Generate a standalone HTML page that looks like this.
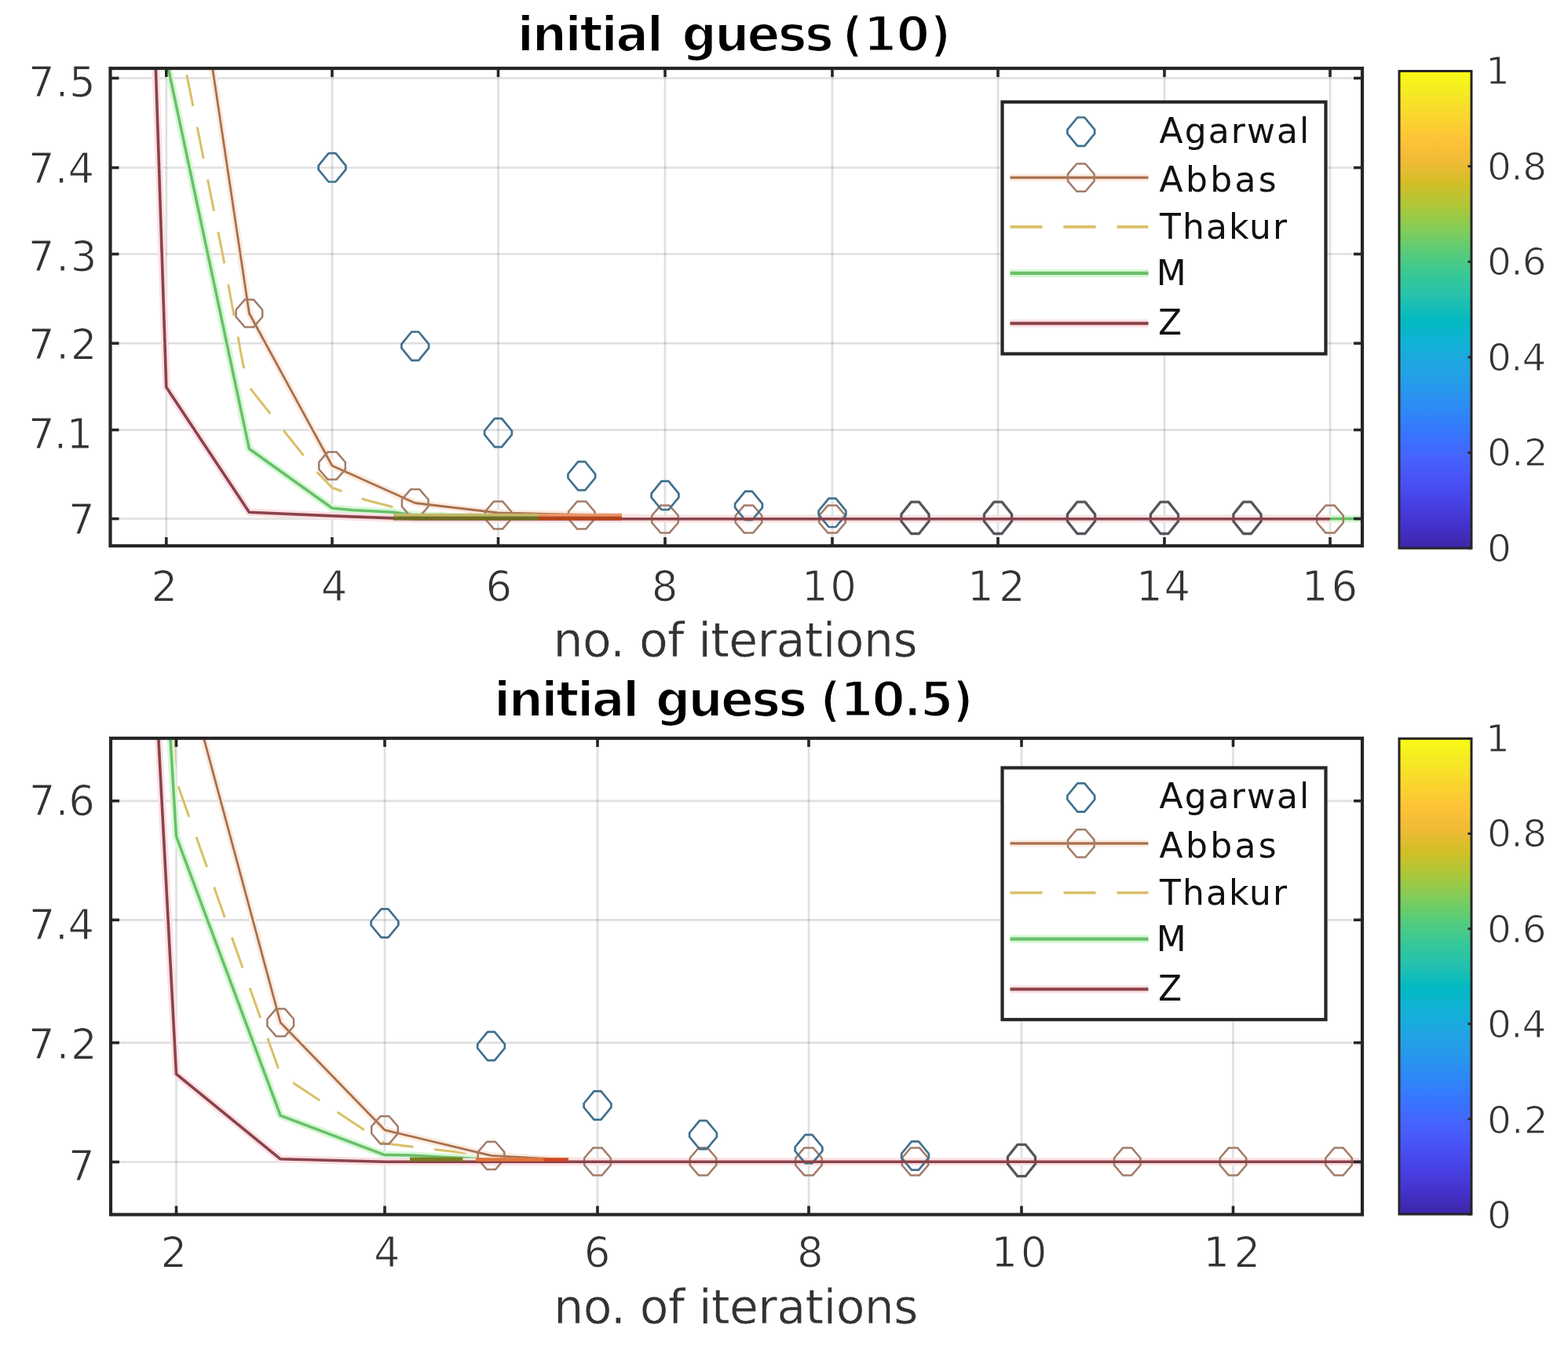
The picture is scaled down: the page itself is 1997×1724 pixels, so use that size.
<!DOCTYPE html>
<html><head><meta charset="utf-8"><title>initial guess</title><style>html,body{margin:0;padding:0;background:#fff;}svg{display:block;}</style></head><body>
<svg width="1997" height="1724" viewBox="0 0 1997 1724" font-family='"DejaVu Sans","Liberation Sans",sans-serif'>
<rect width="1997" height="1724" fill="#fff"/>
<clipPath id="cp1"><rect x="140.5" y="87" width="1594.5" height="608"/></clipPath>
<line x1="211.8" y1="87.0" x2="211.8" y2="695.0" stroke="#262626" stroke-width="2.7" stroke-opacity="0.14"/>
<line x1="423.0" y1="87.0" x2="423.0" y2="695.0" stroke="#262626" stroke-width="2.7" stroke-opacity="0.14"/>
<line x1="634.5" y1="87.0" x2="634.5" y2="695.0" stroke="#262626" stroke-width="2.7" stroke-opacity="0.14"/>
<line x1="847.0" y1="87.0" x2="847.0" y2="695.0" stroke="#262626" stroke-width="2.7" stroke-opacity="0.14"/>
<line x1="1060.0" y1="87.0" x2="1060.0" y2="695.0" stroke="#262626" stroke-width="2.7" stroke-opacity="0.14"/>
<line x1="1271.0" y1="87.0" x2="1271.0" y2="695.0" stroke="#262626" stroke-width="2.7" stroke-opacity="0.14"/>
<line x1="1483.0" y1="87.0" x2="1483.0" y2="695.0" stroke="#262626" stroke-width="2.7" stroke-opacity="0.14"/>
<line x1="1694.0" y1="87.0" x2="1694.0" y2="695.0" stroke="#262626" stroke-width="2.7" stroke-opacity="0.14"/>
<line x1="140.5" y1="99.5" x2="1735.0" y2="99.5" stroke="#262626" stroke-width="2.7" stroke-opacity="0.14"/>
<line x1="140.5" y1="213.5" x2="1735.0" y2="213.5" stroke="#262626" stroke-width="2.7" stroke-opacity="0.14"/>
<line x1="140.5" y1="323.5" x2="1735.0" y2="323.5" stroke="#262626" stroke-width="2.7" stroke-opacity="0.14"/>
<line x1="140.5" y1="437.1" x2="1735.0" y2="437.1" stroke="#262626" stroke-width="2.7" stroke-opacity="0.14"/>
<line x1="140.5" y1="547.4" x2="1735.0" y2="547.4" stroke="#262626" stroke-width="2.7" stroke-opacity="0.14"/>
<line x1="140.5" y1="660.5" x2="1735.0" y2="660.5" stroke="#262626" stroke-width="2.7" stroke-opacity="0.14"/>
<g clip-path="url(#cp1)">
<polyline points="222.5,-40.0 236.2,87.0 284.3,327.5 309.5,464.0 317.4,493.0 401.3,598.5 423.0,621.0 465.4,636.5 528.8,653.0 634.5,656.0 793.9,657.0" fill="none" stroke="#d9c068" stroke-width="3.0" stroke-linejoin="round" stroke-dasharray="41 27"/>
<polyline points="105.9,-2705.0 211.8,75.0 317.4,571.5 423.0,647.0 449.6,649.5 501.5,652.3 528.8,656.0 634.5,659.5 740.8,660.6 1799.9,660.6" fill="none" stroke="#d6f8d6" stroke-width="9.5" stroke-linejoin="round"/>
<polyline points="105.9,-2705.0 211.8,75.0 317.4,571.5 423.0,647.0 449.6,649.5 501.5,652.3 528.8,656.0 634.5,659.5 740.8,660.6 1799.9,660.6" fill="none" stroke="#6abf6a" stroke-width="3.5" stroke-linejoin="round"/>
<polyline points="105.9,-2705.0 211.8,-306.0 317.4,399.0 423.0,593.0 528.8,640.5 634.5,653.0 740.8,655.5 847.0,660.5 1694.0,660.5" fill="none" stroke="#fbebe0" stroke-width="8.8" stroke-linejoin="round"/>
<polyline points="105.9,-2705.0 211.8,-306.0 317.4,399.0 423.0,593.0 528.8,640.5 634.5,653.0 740.8,655.5 847.0,660.5 1694.0,660.5" fill="none" stroke="#a8704c" stroke-width="2.8" stroke-linejoin="round"/>
<polyline points="105.9,-2705.0 211.8,493.0 317.4,652.3 423.0,656.9 528.8,660.8 1694.0,660.8" fill="none" stroke="#fbe0e4" stroke-width="9.6" stroke-linejoin="round"/>
<path d="M311.9 381.4L322.9 381.4L334.2 394.5L334.2 403.5L322.9 416.6L311.9 416.6L300.6 403.5L300.6 394.5Z" fill="none" stroke="#a27c68" stroke-width="2.5" stroke-linejoin="round"/>
<path d="M417.5 575.4L428.5 575.4L439.8 588.5L439.8 597.5L428.5 610.6L417.5 610.6L406.2 597.5L406.2 588.5Z" fill="none" stroke="#a27c68" stroke-width="2.5" stroke-linejoin="round"/>
<path d="M523.2 622.9L534.2 622.9L545.5 636.0L545.5 645.0L534.2 658.1L523.2 658.1L511.9 645.0L511.9 636.0Z" fill="none" stroke="#a27c68" stroke-width="2.5" stroke-linejoin="round"/>
<path d="M629.0 638.4L640.0 638.4L651.3 651.5L651.3 660.5L640.0 673.6L629.0 673.6L617.7 660.5L617.7 651.5Z" fill="none" stroke="#a27c68" stroke-width="2.5" stroke-linejoin="round"/>
<path d="M735.2 638.4L746.2 638.4L757.5 651.5L757.5 660.5L746.2 673.6L735.2 673.6L724.0 660.5L724.0 651.5Z" fill="none" stroke="#a27c68" stroke-width="2.5" stroke-linejoin="round"/>
<path d="M841.5 643.4L852.5 643.4L863.8 656.5L863.8 665.5L852.5 678.6L841.5 678.6L830.2 665.5L830.2 656.5Z" fill="none" stroke="#a27c68" stroke-width="2.5" stroke-linejoin="round"/>
<path d="M948.0 643.4L959.0 643.4L970.3 656.5L970.3 665.5L959.0 678.6L948.0 678.6L936.7 665.5L936.7 656.5Z" fill="none" stroke="#a27c68" stroke-width="2.5" stroke-linejoin="round"/>
<path d="M1054.5 643.4L1065.5 643.4L1076.8 656.5L1076.8 665.5L1065.5 678.6L1054.5 678.6L1043.2 665.5L1043.2 656.5Z" fill="none" stroke="#a27c68" stroke-width="2.5" stroke-linejoin="round"/>
<path d="M1688.5 643.4L1699.5 643.4L1710.8 656.5L1710.8 665.5L1699.5 678.6L1688.5 678.6L1677.2 665.5L1677.2 656.5Z" fill="none" stroke="#a27c68" stroke-width="2.5" stroke-linejoin="round"/>
<path d="M418.5 195.1L427.5 195.1L440.4 210.8L440.4 215.8L427.5 231.5L418.5 231.5L405.6 215.8L405.6 210.8Z" fill="none" stroke="#41708e" stroke-width="2.7" stroke-linejoin="round"/>
<path d="M524.2 422.5L533.2 422.5L546.1 438.2L546.1 443.2L533.2 458.9L524.2 458.9L511.4 443.2L511.4 438.2Z" fill="none" stroke="#41708e" stroke-width="2.7" stroke-linejoin="round"/>
<path d="M630.0 532.8L639.0 532.8L651.9 548.5L651.9 553.5L639.0 569.2L630.0 569.2L617.1 553.5L617.1 548.5Z" fill="none" stroke="#41708e" stroke-width="2.7" stroke-linejoin="round"/>
<path d="M736.2 587.8L745.2 587.8L758.1 603.5L758.1 608.5L745.2 624.2L736.2 624.2L723.4 608.5L723.4 603.5Z" fill="none" stroke="#41708e" stroke-width="2.7" stroke-linejoin="round"/>
<path d="M842.5 612.6L851.5 612.6L864.4 628.3L864.4 633.3L851.5 649.0L842.5 649.0L829.6 633.3L829.6 628.3Z" fill="none" stroke="#41708e" stroke-width="2.7" stroke-linejoin="round"/>
<path d="M949.0 625.6L958.0 625.6L970.9 641.3L970.9 646.3L958.0 662.0L949.0 662.0L936.1 646.3L936.1 641.3Z" fill="none" stroke="#41708e" stroke-width="2.7" stroke-linejoin="round"/>
<path d="M1055.5 634.6L1064.5 634.6L1077.4 650.3L1077.4 655.3L1064.5 671.0L1055.5 671.0L1042.6 655.3L1042.6 650.3Z" fill="none" stroke="#41708e" stroke-width="2.7" stroke-linejoin="round"/>
<path d="M1160.5 639.1L1170.5 639.1L1183.1 654.8L1183.1 663.8L1170.5 679.5L1160.5 679.5L1147.9 663.8L1147.9 654.8Z" fill="none" stroke="#55555d" stroke-width="3.3" stroke-linejoin="round"/>
<path d="M1266.0 639.1L1276.0 639.1L1288.6 654.8L1288.6 663.8L1276.0 679.5L1266.0 679.5L1253.4 663.8L1253.4 654.8Z" fill="none" stroke="#55555d" stroke-width="3.3" stroke-linejoin="round"/>
<path d="M1372.0 639.1L1382.0 639.1L1394.6 654.8L1394.6 663.8L1382.0 679.5L1372.0 679.5L1359.4 663.8L1359.4 654.8Z" fill="none" stroke="#55555d" stroke-width="3.3" stroke-linejoin="round"/>
<path d="M1478.0 639.1L1488.0 639.1L1500.6 654.8L1500.6 663.8L1488.0 679.5L1478.0 679.5L1465.4 663.8L1465.4 654.8Z" fill="none" stroke="#55555d" stroke-width="3.3" stroke-linejoin="round"/>
<path d="M1583.5 639.1L1593.5 639.1L1606.1 654.8L1606.1 663.8L1593.5 679.5L1583.5 679.5L1570.9 663.8L1570.9 654.8Z" fill="none" stroke="#55555d" stroke-width="3.3" stroke-linejoin="round"/>
<polyline points="105.9,-2705.0 211.8,493.0 317.4,652.3 423.0,656.9 528.8,660.8 1694.0,660.8" fill="none" stroke="#8a434a" stroke-width="3.6" stroke-linejoin="round"/>
<rect x="501" y="653.8" width="185" height="4" fill="#c2b868"/>
<rect x="501" y="657.5" width="185" height="5" fill="#6e6c22"/>
<rect x="686" y="653.8" width="106" height="4" fill="#e8956a"/>
<rect x="686" y="657.5" width="106" height="5" fill="#b44418"/>
</g>
<rect x="140.5" y="87" width="1594.5" height="608" fill="none" stroke="#262626" stroke-width="4.2"/>
<line x1="211.8" y1="695.0" x2="211.8" y2="684.0" stroke="#262626" stroke-width="3.6"/>
<line x1="211.8" y1="87.0" x2="211.8" y2="98.0" stroke="#262626" stroke-width="3.6"/>
<line x1="423.0" y1="695.0" x2="423.0" y2="684.0" stroke="#262626" stroke-width="3.6"/>
<line x1="423.0" y1="87.0" x2="423.0" y2="98.0" stroke="#262626" stroke-width="3.6"/>
<line x1="634.5" y1="695.0" x2="634.5" y2="684.0" stroke="#262626" stroke-width="3.6"/>
<line x1="634.5" y1="87.0" x2="634.5" y2="98.0" stroke="#262626" stroke-width="3.6"/>
<line x1="847.0" y1="695.0" x2="847.0" y2="684.0" stroke="#262626" stroke-width="3.6"/>
<line x1="847.0" y1="87.0" x2="847.0" y2="98.0" stroke="#262626" stroke-width="3.6"/>
<line x1="1060.0" y1="695.0" x2="1060.0" y2="684.0" stroke="#262626" stroke-width="3.6"/>
<line x1="1060.0" y1="87.0" x2="1060.0" y2="98.0" stroke="#262626" stroke-width="3.6"/>
<line x1="1271.0" y1="695.0" x2="1271.0" y2="684.0" stroke="#262626" stroke-width="3.6"/>
<line x1="1271.0" y1="87.0" x2="1271.0" y2="98.0" stroke="#262626" stroke-width="3.6"/>
<line x1="1483.0" y1="695.0" x2="1483.0" y2="684.0" stroke="#262626" stroke-width="3.6"/>
<line x1="1483.0" y1="87.0" x2="1483.0" y2="98.0" stroke="#262626" stroke-width="3.6"/>
<line x1="1694.0" y1="695.0" x2="1694.0" y2="684.0" stroke="#262626" stroke-width="3.6"/>
<line x1="1694.0" y1="87.0" x2="1694.0" y2="98.0" stroke="#262626" stroke-width="3.6"/>
<line x1="140.5" y1="99.5" x2="151.5" y2="99.5" stroke="#262626" stroke-width="3.6"/>
<line x1="1735.0" y1="99.5" x2="1724.0" y2="99.5" stroke="#262626" stroke-width="3.6"/>
<line x1="140.5" y1="213.5" x2="151.5" y2="213.5" stroke="#262626" stroke-width="3.6"/>
<line x1="1735.0" y1="213.5" x2="1724.0" y2="213.5" stroke="#262626" stroke-width="3.6"/>
<line x1="140.5" y1="323.5" x2="151.5" y2="323.5" stroke="#262626" stroke-width="3.6"/>
<line x1="1735.0" y1="323.5" x2="1724.0" y2="323.5" stroke="#262626" stroke-width="3.6"/>
<line x1="140.5" y1="437.1" x2="151.5" y2="437.1" stroke="#262626" stroke-width="3.6"/>
<line x1="1735.0" y1="437.1" x2="1724.0" y2="437.1" stroke="#262626" stroke-width="3.6"/>
<line x1="140.5" y1="547.4" x2="151.5" y2="547.4" stroke="#262626" stroke-width="3.6"/>
<line x1="1735.0" y1="547.4" x2="1724.0" y2="547.4" stroke="#262626" stroke-width="3.6"/>
<line x1="140.5" y1="660.5" x2="151.5" y2="660.5" stroke="#262626" stroke-width="3.6"/>
<line x1="1735.0" y1="660.5" x2="1724.0" y2="660.5" stroke="#262626" stroke-width="3.6"/>
<clipPath id="cp2"><rect x="141" y="940" width="1594" height="606.5"/></clipPath>
<line x1="224.5" y1="940.0" x2="224.5" y2="1546.5" stroke="#262626" stroke-width="2.7" stroke-opacity="0.14"/>
<line x1="490.0" y1="940.0" x2="490.0" y2="1546.5" stroke="#262626" stroke-width="2.7" stroke-opacity="0.14"/>
<line x1="761.0" y1="940.0" x2="761.0" y2="1546.5" stroke="#262626" stroke-width="2.7" stroke-opacity="0.14"/>
<line x1="1030.0" y1="940.0" x2="1030.0" y2="1546.5" stroke="#262626" stroke-width="2.7" stroke-opacity="0.14"/>
<line x1="1301.0" y1="940.0" x2="1301.0" y2="1546.5" stroke="#262626" stroke-width="2.7" stroke-opacity="0.14"/>
<line x1="1570.5" y1="940.0" x2="1570.5" y2="1546.5" stroke="#262626" stroke-width="2.7" stroke-opacity="0.14"/>
<line x1="141.0" y1="1019.8" x2="1735.0" y2="1019.8" stroke="#262626" stroke-width="2.7" stroke-opacity="0.14"/>
<line x1="141.0" y1="1171.3" x2="1735.0" y2="1171.3" stroke="#262626" stroke-width="2.7" stroke-opacity="0.14"/>
<line x1="141.0" y1="1327.7" x2="1735.0" y2="1327.7" stroke="#262626" stroke-width="2.7" stroke-opacity="0.14"/>
<line x1="141.0" y1="1479.5" x2="1735.0" y2="1479.5" stroke="#262626" stroke-width="2.7" stroke-opacity="0.14"/>
<g clip-path="url(#cp2)">
<polyline points="89.9,-1170.0 224.5,994.0 357.2,1368.0 490.0,1456.0 625.5,1472.0 761.0,1477.0 828.2,1478.0" fill="none" stroke="#d9c068" stroke-width="3.0" stroke-linejoin="round" stroke-dasharray="41 27"/>
<polyline points="89.9,-1170.0 224.5,1065.0 357.2,1420.4 490.0,1470.6 522.0,1471.0 625.5,1476.5 761.0,1479.3 1839.7,1479.3" fill="none" stroke="#d6f8d6" stroke-width="9.5" stroke-linejoin="round"/>
<polyline points="89.9,-1170.0 224.5,1065.0 357.2,1420.4 490.0,1470.6 522.0,1471.0 625.5,1476.5 761.0,1479.3 1839.7,1479.3" fill="none" stroke="#6abf6a" stroke-width="3.5" stroke-linejoin="round"/>
<polyline points="89.9,-1170.0 224.5,810.0 357.2,1302.0 490.0,1438.8 625.5,1471.4 761.0,1479.0 1705.1,1479.0" fill="none" stroke="#fbebe0" stroke-width="8.8" stroke-linejoin="round"/>
<polyline points="89.9,-1170.0 224.5,810.0 357.2,1302.0 490.0,1438.8 625.5,1471.4 761.0,1479.0 1705.1,1479.0" fill="none" stroke="#a8704c" stroke-width="2.8" stroke-linejoin="round"/>
<polyline points="89.9,-1170.0 224.5,1367.5 357.2,1475.8 490.0,1479.3 1839.7,1479.3" fill="none" stroke="#fbe0e4" stroke-width="9.6" stroke-linejoin="round"/>
<path d="M351.8 1284.4L362.8 1284.4L374.1 1297.5L374.1 1306.5L362.8 1319.6L351.8 1319.6L340.4 1306.5L340.4 1297.5Z" fill="none" stroke="#a27c68" stroke-width="2.5" stroke-linejoin="round"/>
<path d="M484.5 1421.2L495.5 1421.2L506.8 1434.3L506.8 1443.3L495.5 1456.4L484.5 1456.4L473.2 1443.3L473.2 1434.3Z" fill="none" stroke="#a27c68" stroke-width="2.5" stroke-linejoin="round"/>
<path d="M620.0 1453.8L631.0 1453.8L642.3 1466.9L642.3 1475.9L631.0 1489.0L620.0 1489.0L608.7 1475.9L608.7 1466.9Z" fill="none" stroke="#a27c68" stroke-width="2.5" stroke-linejoin="round"/>
<path d="M755.5 1461.4L766.5 1461.4L777.8 1474.5L777.8 1483.5L766.5 1496.6L755.5 1496.6L744.2 1483.5L744.2 1474.5Z" fill="none" stroke="#a27c68" stroke-width="2.5" stroke-linejoin="round"/>
<path d="M890.0 1461.4L901.0 1461.4L912.3 1474.5L912.3 1483.5L901.0 1496.6L890.0 1496.6L878.7 1483.5L878.7 1474.5Z" fill="none" stroke="#a27c68" stroke-width="2.5" stroke-linejoin="round"/>
<path d="M1024.5 1461.4L1035.5 1461.4L1046.8 1474.5L1046.8 1483.5L1035.5 1496.6L1024.5 1496.6L1013.2 1483.5L1013.2 1474.5Z" fill="none" stroke="#a27c68" stroke-width="2.5" stroke-linejoin="round"/>
<path d="M1160.0 1461.4L1171.0 1461.4L1182.3 1474.5L1182.3 1483.5L1171.0 1496.6L1160.0 1496.6L1148.7 1483.5L1148.7 1474.5Z" fill="none" stroke="#a27c68" stroke-width="2.5" stroke-linejoin="round"/>
<path d="M1430.2 1461.4L1441.2 1461.4L1452.5 1474.5L1452.5 1483.5L1441.2 1496.6L1430.2 1496.6L1419.0 1483.5L1419.0 1474.5Z" fill="none" stroke="#a27c68" stroke-width="2.5" stroke-linejoin="round"/>
<path d="M1565.0 1461.4L1576.0 1461.4L1587.3 1474.5L1587.3 1483.5L1576.0 1496.6L1565.0 1496.6L1553.7 1483.5L1553.7 1474.5Z" fill="none" stroke="#a27c68" stroke-width="2.5" stroke-linejoin="round"/>
<path d="M1699.6 1461.4L1710.6 1461.4L1721.9 1474.5L1721.9 1483.5L1710.6 1496.6L1699.6 1496.6L1688.3 1483.5L1688.3 1474.5Z" fill="none" stroke="#a27c68" stroke-width="2.5" stroke-linejoin="round"/>
<path d="M485.5 1157.3L494.5 1157.3L507.4 1173.0L507.4 1178.0L494.5 1193.7L485.5 1193.7L472.6 1178.0L472.6 1173.0Z" fill="none" stroke="#41708e" stroke-width="2.7" stroke-linejoin="round"/>
<path d="M621.0 1313.8L630.0 1313.8L642.9 1329.5L642.9 1334.5L630.0 1350.2L621.0 1350.2L608.1 1334.5L608.1 1329.5Z" fill="none" stroke="#41708e" stroke-width="2.7" stroke-linejoin="round"/>
<path d="M756.5 1389.3L765.5 1389.3L778.4 1405.0L778.4 1410.0L765.5 1425.7L756.5 1425.7L743.6 1410.0L743.6 1405.0Z" fill="none" stroke="#41708e" stroke-width="2.7" stroke-linejoin="round"/>
<path d="M891.0 1426.8L900.0 1426.8L912.9 1442.5L912.9 1447.5L900.0 1463.2L891.0 1463.2L878.1 1447.5L878.1 1442.5Z" fill="none" stroke="#41708e" stroke-width="2.7" stroke-linejoin="round"/>
<path d="M1025.5 1444.8L1034.5 1444.8L1047.4 1460.5L1047.4 1465.5L1034.5 1481.2L1025.5 1481.2L1012.6 1465.5L1012.6 1460.5Z" fill="none" stroke="#41708e" stroke-width="2.7" stroke-linejoin="round"/>
<path d="M1161.0 1453.3L1170.0 1453.3L1182.9 1469.0L1182.9 1474.0L1170.0 1489.7L1161.0 1489.7L1148.1 1474.0L1148.1 1469.0Z" fill="none" stroke="#41708e" stroke-width="2.7" stroke-linejoin="round"/>
<path d="M1296.0 1457.3L1306.0 1457.3L1318.6 1473.0L1318.6 1482.0L1306.0 1497.7L1296.0 1497.7L1283.4 1482.0L1283.4 1473.0Z" fill="none" stroke="#55555d" stroke-width="3.3" stroke-linejoin="round"/>
<polyline points="89.9,-1170.0 224.5,1367.5 357.2,1475.8 490.0,1479.3 1839.7,1479.3" fill="none" stroke="#8a434a" stroke-width="3.6" stroke-linejoin="round"/>
<rect x="522" y="1473.6" width="67.4" height="5" fill="#7a7d22"/>
<rect x="606" y="1474.2" width="86" height="4.6" fill="#e2733a"/>
<rect x="692" y="1474.2" width="32" height="4.6" fill="#d44a22"/>
</g>
<rect x="141" y="940" width="1594" height="606.5" fill="none" stroke="#262626" stroke-width="4.2"/>
<line x1="224.5" y1="1546.5" x2="224.5" y2="1535.5" stroke="#262626" stroke-width="3.6"/>
<line x1="224.5" y1="940.0" x2="224.5" y2="951.0" stroke="#262626" stroke-width="3.6"/>
<line x1="490.0" y1="1546.5" x2="490.0" y2="1535.5" stroke="#262626" stroke-width="3.6"/>
<line x1="490.0" y1="940.0" x2="490.0" y2="951.0" stroke="#262626" stroke-width="3.6"/>
<line x1="761.0" y1="1546.5" x2="761.0" y2="1535.5" stroke="#262626" stroke-width="3.6"/>
<line x1="761.0" y1="940.0" x2="761.0" y2="951.0" stroke="#262626" stroke-width="3.6"/>
<line x1="1030.0" y1="1546.5" x2="1030.0" y2="1535.5" stroke="#262626" stroke-width="3.6"/>
<line x1="1030.0" y1="940.0" x2="1030.0" y2="951.0" stroke="#262626" stroke-width="3.6"/>
<line x1="1301.0" y1="1546.5" x2="1301.0" y2="1535.5" stroke="#262626" stroke-width="3.6"/>
<line x1="1301.0" y1="940.0" x2="1301.0" y2="951.0" stroke="#262626" stroke-width="3.6"/>
<line x1="1570.5" y1="1546.5" x2="1570.5" y2="1535.5" stroke="#262626" stroke-width="3.6"/>
<line x1="1570.5" y1="940.0" x2="1570.5" y2="951.0" stroke="#262626" stroke-width="3.6"/>
<line x1="141.0" y1="1019.8" x2="152.0" y2="1019.8" stroke="#262626" stroke-width="3.6"/>
<line x1="1735.0" y1="1019.8" x2="1724.0" y2="1019.8" stroke="#262626" stroke-width="3.6"/>
<line x1="141.0" y1="1171.3" x2="152.0" y2="1171.3" stroke="#262626" stroke-width="3.6"/>
<line x1="1735.0" y1="1171.3" x2="1724.0" y2="1171.3" stroke="#262626" stroke-width="3.6"/>
<line x1="141.0" y1="1327.7" x2="152.0" y2="1327.7" stroke="#262626" stroke-width="3.6"/>
<line x1="1735.0" y1="1327.7" x2="1724.0" y2="1327.7" stroke="#262626" stroke-width="3.6"/>
<line x1="141.0" y1="1479.5" x2="152.0" y2="1479.5" stroke="#262626" stroke-width="3.6"/>
<line x1="1735.0" y1="1479.5" x2="1724.0" y2="1479.5" stroke="#262626" stroke-width="3.6"/>
<rect x="1276.5" y="129.8" width="412.0" height="320.7" fill="#fff" stroke="#262626" stroke-width="4.2"/>
<path d="M1372.3 149.5L1381.3 149.5L1394.2 165.2L1394.2 170.2L1381.3 185.9L1372.3 185.9L1359.4 170.2L1359.4 165.2Z" fill="none" stroke="#41708e" stroke-width="2.7" stroke-linejoin="round"/>
<polyline points="1286.5,226.1 1462.5,226.1" fill="none" stroke="#fbebe0" stroke-width="9.4" stroke-linejoin="round"/>
<polyline points="1286.5,226.1 1462.5,226.1" fill="none" stroke="#a8704c" stroke-width="3.4" stroke-linejoin="round"/>
<path d="M1371.3 208.5L1382.3 208.5L1393.6 221.6L1393.6 230.6L1382.3 243.7L1371.3 243.7L1360.0 230.6L1360.0 221.6Z" fill="none" stroke="#a27c68" stroke-width="2.5" stroke-linejoin="round"/>
<polyline points="1286.5,288.9 1462.5,288.9" fill="none" stroke="#d9c068" stroke-width="3.6" stroke-linejoin="round" stroke-dasharray="41 27"/>
<polyline points="1286.5,347.9 1462.5,347.9" fill="none" stroke="#d6f8d6" stroke-width="10.2" stroke-linejoin="round"/>
<polyline points="1286.5,347.9 1462.5,347.9" fill="none" stroke="#6abf6a" stroke-width="4.2" stroke-linejoin="round"/>
<polyline points="1286.5,411.8 1462.5,411.8" fill="none" stroke="#fbe0e4" stroke-width="10.0" stroke-linejoin="round"/>
<polyline points="1286.5,411.8 1462.5,411.8" fill="none" stroke="#8a434a" stroke-width="4.0" stroke-linejoin="round"/>
<text x="1476.6" y="181.6" font-size="44" fill="#111" letter-spacing="2.05">Agarwal</text>
<text x="1476.6" y="244.4" font-size="44" fill="#111" letter-spacing="3.30">Abbas</text>
<text x="1477.1" y="303.9" font-size="44" fill="#111" letter-spacing="2.02">Thakur</text>
<text x="1472.7" y="363.4" font-size="44" fill="#111">M</text>
<text x="1475.0" y="426.1" font-size="44" fill="#111">Z</text>
<rect x="1276.5" y="977.6" width="412.0" height="320.6" fill="#fff" stroke="#262626" stroke-width="4.2"/>
<path d="M1372.3 997.3L1381.3 997.3L1394.2 1013.0L1394.2 1018.0L1381.3 1033.7L1372.3 1033.7L1359.4 1018.0L1359.4 1013.0Z" fill="none" stroke="#41708e" stroke-width="2.7" stroke-linejoin="round"/>
<polyline points="1286.5,1073.9 1462.5,1073.9" fill="none" stroke="#fbebe0" stroke-width="9.4" stroke-linejoin="round"/>
<polyline points="1286.5,1073.9 1462.5,1073.9" fill="none" stroke="#a8704c" stroke-width="3.4" stroke-linejoin="round"/>
<path d="M1371.3 1056.3L1382.3 1056.3L1393.6 1069.4L1393.6 1078.4L1382.3 1091.5L1371.3 1091.5L1360.0 1078.4L1360.0 1069.4Z" fill="none" stroke="#a27c68" stroke-width="2.5" stroke-linejoin="round"/>
<polyline points="1286.5,1136.7 1462.5,1136.7" fill="none" stroke="#d9c068" stroke-width="3.6" stroke-linejoin="round" stroke-dasharray="41 27"/>
<polyline points="1286.5,1195.7 1462.5,1195.7" fill="none" stroke="#d6f8d6" stroke-width="10.2" stroke-linejoin="round"/>
<polyline points="1286.5,1195.7 1462.5,1195.7" fill="none" stroke="#6abf6a" stroke-width="4.2" stroke-linejoin="round"/>
<polyline points="1286.5,1259.6 1462.5,1259.6" fill="none" stroke="#fbe0e4" stroke-width="10.0" stroke-linejoin="round"/>
<polyline points="1286.5,1259.6 1462.5,1259.6" fill="none" stroke="#8a434a" stroke-width="4.0" stroke-linejoin="round"/>
<text x="1476.6" y="1029.4" font-size="44" fill="#111" letter-spacing="2.05">Agarwal</text>
<text x="1476.6" y="1092.2" font-size="44" fill="#111" letter-spacing="3.30">Abbas</text>
<text x="1477.1" y="1151.7" font-size="44" fill="#111" letter-spacing="2.02">Thakur</text>
<text x="1472.7" y="1211.2" font-size="44" fill="#111">M</text>
<text x="1475.0" y="1273.9" font-size="44" fill="#111">Z</text>
<linearGradient id="par90" x1="0" y1="0" x2="0" y2="1"><stop offset="0.0000" stop-color="#f9fb15"/><stop offset="0.0476" stop-color="#f5e924"/><stop offset="0.0952" stop-color="#fad62d"/><stop offset="0.1429" stop-color="#fec338"/><stop offset="0.1905" stop-color="#f0ba36"/><stop offset="0.2381" stop-color="#d1bf27"/><stop offset="0.2857" stop-color="#abc739"/><stop offset="0.3333" stop-color="#81cc59"/><stop offset="0.3810" stop-color="#57cc7a"/><stop offset="0.4286" stop-color="#37c897"/><stop offset="0.4762" stop-color="#24c1ae"/><stop offset="0.5238" stop-color="#02bac3"/><stop offset="0.5714" stop-color="#12b1d6"/><stop offset="0.6190" stop-color="#20a5e3"/><stop offset="0.6667" stop-color="#2797eb"/><stop offset="0.7143" stop-color="#2e87f7"/><stop offset="0.7619" stop-color="#3875fe"/><stop offset="0.8095" stop-color="#4563fd"/><stop offset="0.8571" stop-color="#4852f4"/><stop offset="0.9048" stop-color="#4741e5"/><stop offset="0.9524" stop-color="#4332cb"/><stop offset="1.0000" stop-color="#3e26a8"/><stop offset="1" stop-color="#3e26a8"/></linearGradient>
<rect x="1782" y="90.5" width="92" height="607.5" fill="url(#par90)" stroke="#262626" stroke-width="3.0"/>
<line x1="1874.0" y1="90.5" x2="1869.5" y2="90.5" stroke="#262626" stroke-width="3"/>
<line x1="1874.0" y1="211.7" x2="1869.5" y2="211.7" stroke="#262626" stroke-width="3"/>
<line x1="1874.0" y1="333.3" x2="1869.5" y2="333.3" stroke="#262626" stroke-width="3"/>
<line x1="1874.0" y1="454.9" x2="1869.5" y2="454.9" stroke="#262626" stroke-width="3"/>
<line x1="1874.0" y1="576.5" x2="1869.5" y2="576.5" stroke="#262626" stroke-width="3"/>
<line x1="1874.0" y1="698.0" x2="1869.5" y2="698.0" stroke="#262626" stroke-width="3"/>
<linearGradient id="par940" x1="0" y1="0" x2="0" y2="1"><stop offset="0.0000" stop-color="#f9fb15"/><stop offset="0.0476" stop-color="#f5e924"/><stop offset="0.0952" stop-color="#fad62d"/><stop offset="0.1429" stop-color="#fec338"/><stop offset="0.1905" stop-color="#f0ba36"/><stop offset="0.2381" stop-color="#d1bf27"/><stop offset="0.2857" stop-color="#abc739"/><stop offset="0.3333" stop-color="#81cc59"/><stop offset="0.3810" stop-color="#57cc7a"/><stop offset="0.4286" stop-color="#37c897"/><stop offset="0.4762" stop-color="#24c1ae"/><stop offset="0.5238" stop-color="#02bac3"/><stop offset="0.5714" stop-color="#12b1d6"/><stop offset="0.6190" stop-color="#20a5e3"/><stop offset="0.6667" stop-color="#2797eb"/><stop offset="0.7143" stop-color="#2e87f7"/><stop offset="0.7619" stop-color="#3875fe"/><stop offset="0.8095" stop-color="#4563fd"/><stop offset="0.8571" stop-color="#4852f4"/><stop offset="0.9048" stop-color="#4741e5"/><stop offset="0.9524" stop-color="#4332cb"/><stop offset="1.0000" stop-color="#3e26a8"/><stop offset="1" stop-color="#3e26a8"/></linearGradient>
<rect x="1782" y="940.4" width="92" height="605.6" fill="url(#par940)" stroke="#262626" stroke-width="3.0"/>
<line x1="1874.0" y1="940.4" x2="1869.5" y2="940.4" stroke="#262626" stroke-width="3"/>
<line x1="1874.0" y1="1061.5" x2="1869.5" y2="1061.5" stroke="#262626" stroke-width="3"/>
<line x1="1874.0" y1="1182.6" x2="1869.5" y2="1182.6" stroke="#262626" stroke-width="3"/>
<line x1="1874.0" y1="1303.7" x2="1869.5" y2="1303.7" stroke="#262626" stroke-width="3"/>
<line x1="1874.0" y1="1424.8" x2="1869.5" y2="1424.8" stroke="#262626" stroke-width="3"/>
<line x1="1874.0" y1="1546.0" x2="1869.5" y2="1546.0" stroke="#262626" stroke-width="3"/>
<text x="658.8" y="64.6" font-size="62" font-weight="bold" fill="#000" letter-spacing="-2.40" stroke="#fff" stroke-width="2.2">initial</text>
<text x="868.6" y="64.6" font-size="62" font-weight="bold" fill="#000" letter-spacing="-2.77" stroke="#fff" stroke-width="2.2">guess</text>
<text x="1071.9" y="64.6" font-size="62" font-weight="bold" fill="#000" letter-spacing="-1.03" stroke="#fff" stroke-width="3.2">(10)</text>
<text x="629.0" y="911.5" font-size="62" font-weight="bold" fill="#000" letter-spacing="-2.57" stroke="#fff" stroke-width="2.2">initial</text>
<text x="834.9" y="911.5" font-size="62" font-weight="bold" fill="#000" letter-spacing="-2.75" stroke="#fff" stroke-width="2.2">guess</text>
<text x="1043.7" y="911.5" font-size="62" font-weight="bold" fill="#000" letter-spacing="-2.58" stroke="#fff" stroke-width="3.2">(10.5)</text>
<text x="36.1" y="122.6" font-size="53" fill="#333333" letter-spacing="0.70" stroke="#fff" stroke-width="1.1">7.5</text>
<text x="36.1" y="232.8" font-size="53" fill="#333333" letter-spacing="-0.10" stroke="#fff" stroke-width="1.1">7.4</text>
<text x="35.7" y="345.4" font-size="53" fill="#333333" letter-spacing="1.80" stroke="#fff" stroke-width="1.1">7.3</text>
<text x="35.9" y="456.6" font-size="53" fill="#333333" letter-spacing="1.60" stroke="#fff" stroke-width="1.1">7.2</text>
<text x="35.9" y="571.0" font-size="53" fill="#333333" letter-spacing="-1.00" stroke="#fff" stroke-width="1.1">7.1</text>
<text x="87.1" y="679.5" font-size="53" fill="#333333" stroke="#fff" stroke-width="1.1">7</text>
<text x="36.7" y="1038.1" font-size="53" fill="#333333" stroke="#fff" stroke-width="1.1">7.6</text>
<text x="36.7" y="1195.8" font-size="53" fill="#333333" letter-spacing="-0.40" stroke="#fff" stroke-width="1.1">7.4</text>
<text x="35.9" y="1347.5" font-size="53" fill="#333333" letter-spacing="1.80" stroke="#fff" stroke-width="1.1">7.2</text>
<text x="87.1" y="1502.8" font-size="53" fill="#333333" stroke="#fff" stroke-width="1.1">7</text>
<text x="192.5" y="765.0" font-size="53" fill="#333333" stroke="#fff" stroke-width="1.1">2</text>
<text x="408.7" y="765.0" font-size="53" fill="#333333" stroke="#fff" stroke-width="1.1">4</text>
<text x="618.6" y="765.0" font-size="53" fill="#333333" stroke="#fff" stroke-width="1.1">6</text>
<text x="829.8" y="765.0" font-size="53" fill="#333333" stroke="#fff" stroke-width="1.1">8</text>
<text x="1021.1" y="765.0" font-size="53" fill="#333333" letter-spacing="2.40" stroke="#fff" stroke-width="1.1">10</text>
<text x="1232.0" y="765.0" font-size="53" fill="#333333" letter-spacing="6.20" stroke="#fff" stroke-width="1.1">12</text>
<text x="1446.9" y="765.0" font-size="53" fill="#333333" letter-spacing="1.90" stroke="#fff" stroke-width="1.1">14</text>
<text x="1657.8" y="765.0" font-size="53" fill="#333333" letter-spacing="4.10" stroke="#fff" stroke-width="1.1">16</text>
<text x="204.4" y="1613.3" font-size="53" fill="#333333" stroke="#fff" stroke-width="1.1">2</text>
<text x="476.0" y="1613.3" font-size="53" fill="#333333" stroke="#fff" stroke-width="1.1">4</text>
<text x="743.7" y="1613.3" font-size="53" fill="#333333" stroke="#fff" stroke-width="1.1">6</text>
<text x="1014.9" y="1613.3" font-size="53" fill="#333333" stroke="#fff" stroke-width="1.1">8</text>
<text x="1262.2" y="1613.3" font-size="53" fill="#333333" letter-spacing="3.90" stroke="#fff" stroke-width="1.1">10</text>
<text x="1532.2" y="1613.3" font-size="53" fill="#333333" letter-spacing="5.70" stroke="#fff" stroke-width="1.1">12</text>
<text x="704.5" y="836.3" font-size="60" fill="#333333" letter-spacing="-0.58" stroke="#fff" stroke-width="0.6">no. of iterations</text>
<text x="705.3" y="1685.2" font-size="60" fill="#333333" letter-spacing="-0.58" stroke="#fff" stroke-width="0.6">no. of iterations</text>
<text x="1891.9" y="107.3" font-size="48.5" fill="#333333" stroke="#fff" stroke-width="1.1">1</text>
<text x="1891.9" y="956.8" font-size="48.5" fill="#333333" stroke="#fff" stroke-width="1.1">1</text>
<text x="1894.0" y="228.8" font-size="48.5" fill="#333333" letter-spacing="-0.55" stroke="#fff" stroke-width="1.1">0.8</text>
<text x="1894.0" y="1078.3" font-size="48.5" fill="#333333" letter-spacing="-0.55" stroke="#fff" stroke-width="1.1">0.8</text>
<text x="1894.0" y="350.3" font-size="48.5" fill="#333333" letter-spacing="-0.70" stroke="#fff" stroke-width="1.1">0.6</text>
<text x="1894.0" y="1199.8" font-size="48.5" fill="#333333" letter-spacing="-0.70" stroke="#fff" stroke-width="1.1">0.6</text>
<text x="1894.0" y="471.8" font-size="48.5" fill="#333333" letter-spacing="-0.85" stroke="#fff" stroke-width="1.1">0.4</text>
<text x="1894.0" y="1321.3" font-size="48.5" fill="#333333" letter-spacing="-0.85" stroke="#fff" stroke-width="1.1">0.4</text>
<text x="1894.0" y="593.3" font-size="48.5" fill="#333333" letter-spacing="0.20" stroke="#fff" stroke-width="1.1">0.2</text>
<text x="1894.0" y="1442.8" font-size="48.5" fill="#333333" letter-spacing="0.20" stroke="#fff" stroke-width="1.1">0.2</text>
<text x="1894.0" y="714.8" font-size="48.5" fill="#333333" stroke="#fff" stroke-width="1.1">0</text>
<text x="1894.0" y="1564.3" font-size="48.5" fill="#333333" stroke="#fff" stroke-width="1.1">0</text>
</svg>
</body></html>
